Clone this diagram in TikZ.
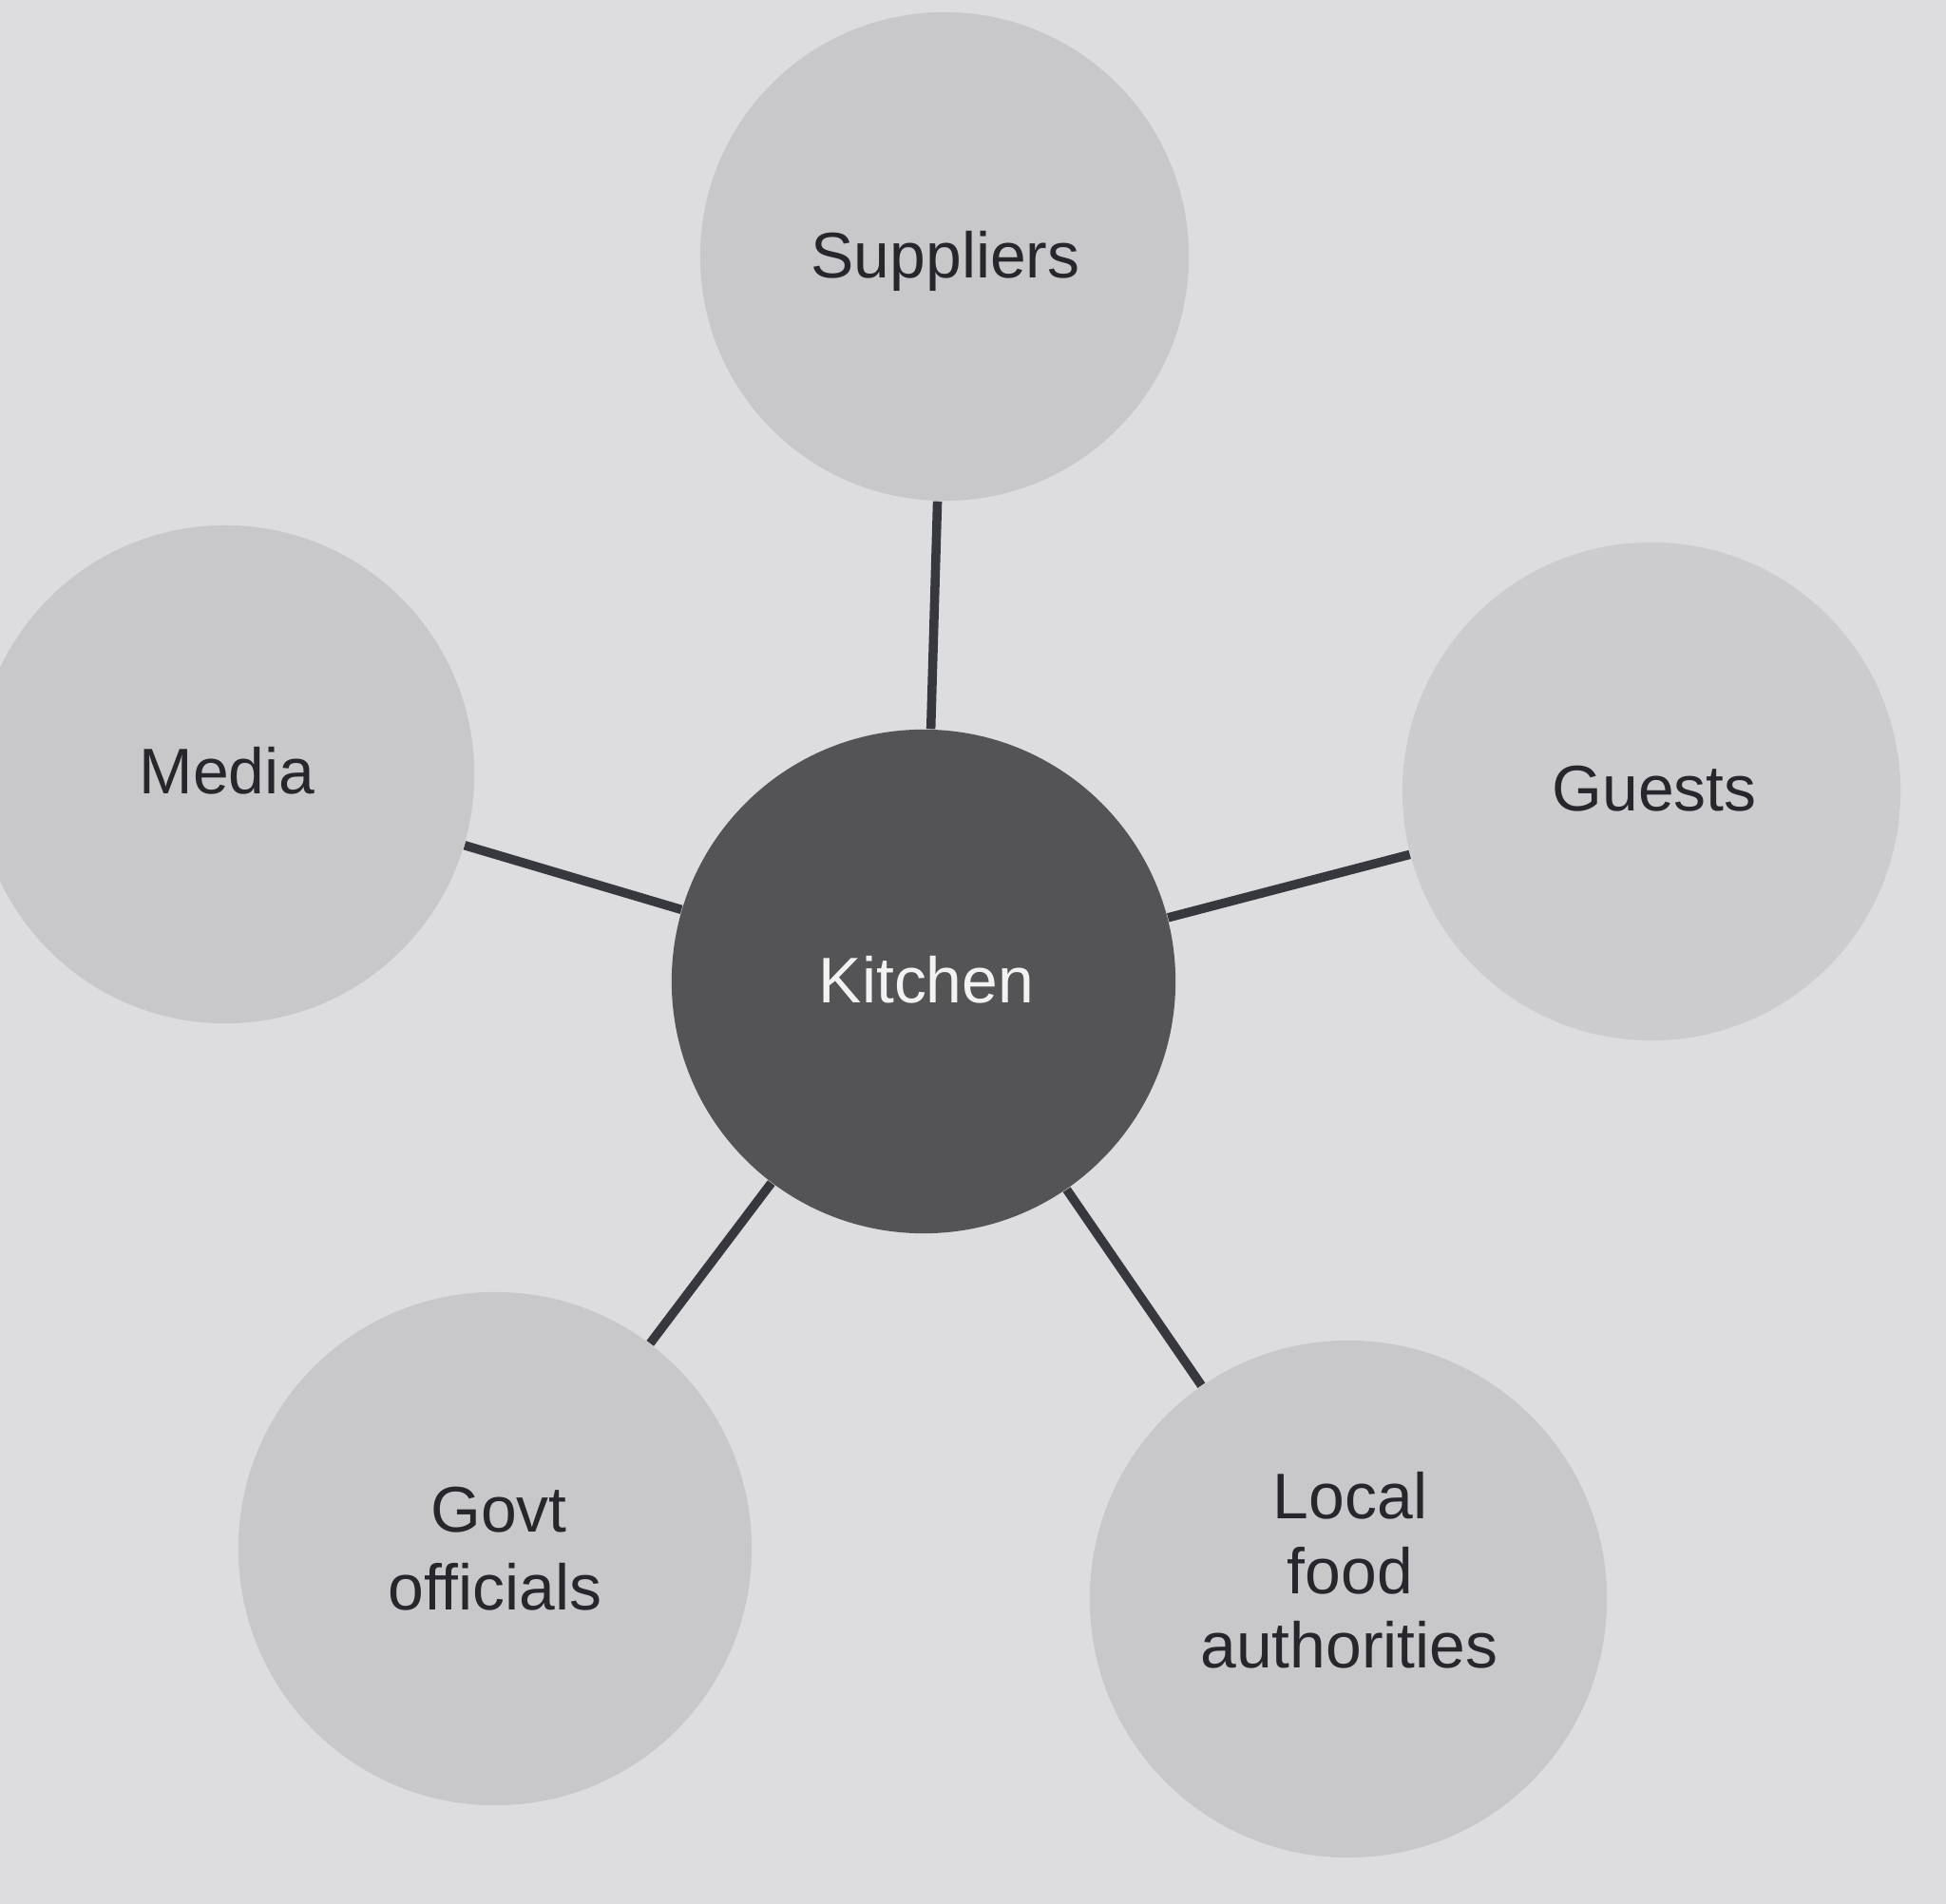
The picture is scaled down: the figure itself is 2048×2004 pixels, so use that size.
\documentclass[tikz,border=0pt]{standalone}
\usepackage{fontspec}
\setmainfont{Liberation Sans}
\definecolor{bgcol}{RGB}{221,221,223}
\definecolor{outercol}{RGB}{200,200,202}
\definecolor{guestcol}{RGB}{204,204,206}
\definecolor{hubcol}{RGB}{84,84,86}
\definecolor{txtcol}{RGB}{38,38,44}
\definecolor{hubtxt}{RGB}{242,242,242}
\definecolor{linecol}{RGB}{55,55,62}
\begin{document}
\begin{tikzpicture}[x=0.01cm,y=-0.01cm,
  outer/.style={circle, inner sep=0pt, fill=outercol},
  hub/.style={circle, inner sep=0pt, fill=hubcol},
  lbl/.style={anchor=base, inner sep=0pt, text=txtcol, font=\fontsize{19.3pt}{23pt}\selectfont},
  link/.style={draw=linecol, line width=0.095cm}]
\fill[bgcol] (0,0) rectangle (2048,2004);
\useasboundingbox (0,0) rectangle (2048,2004);
% circles
\node[outer, minimum size=5.14cm] (sup) at (994,270) {};
\node[outer, minimum size=5.24cm] (med) at (237,815) {};
\node[outer, fill=guestcol, minimum size=5.24cm] (gue) at (1738,833) {};
\node[hub,   minimum size=5.30cm] (kit) at (972,1033) {};
\node[outer, minimum size=5.40cm] (gov) at (521,1630) {};
\node[outer, minimum size=5.44cm] (loc) at (1419,1683) {};
% connectors
\draw[link] (sup) -- (kit);
\draw[link] (med) -- (kit);
\draw[link] (gue) -- (kit);
\draw[link] (gov) -- (kit);
\draw[link] (loc) -- (kit);
% labels
\node[lbl] (supt) at (995,293) {Suppliers};
\node[lbl] (medt) at (239,836) {Media};
\node[lbl] (guet) at (1741,854) {Guests};
\node[lbl, text=hubtxt] (kitt) at (975,1056) {Kitchen};
\node[lbl] (govt1) at (525,1612) {Govt};
\node[lbl] (govt2) at (521,1694) {officials};
\node[lbl] (loct1) at (1421,1598) {Local};
\node[lbl] (loct2) at (1421,1677) {food};
\node[lbl] (loct3) at (1420,1755) {authorities};
\end{tikzpicture}
\end{document}
